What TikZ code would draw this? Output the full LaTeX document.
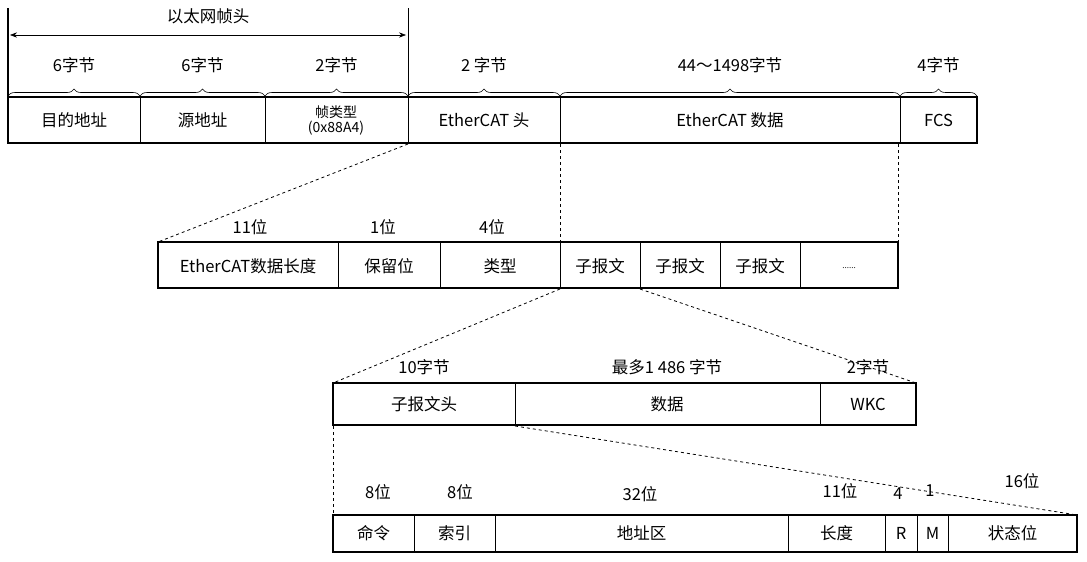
\documentclass[tikz,border=0pt]{standalone}
\usepackage{fontspec}
\setmainfont{Liberation Serif}
\newfontfamily\cjk{Noto Sans CJK SC}
\usetikzlibrary{decorations.pathreplacing,arrows.meta}
\begin{document}
\begin{tikzpicture}[x=1pt,y=-1pt,
  lbl/.style={font=\fontsize{16.5}{17}\selectfont\cjk},
  dsh/.style={dashed,line width=0.8pt},
  frame/.style={line width=1.6pt},
  br/.style={decorate,decoration={brace,amplitude=7pt},line width=0.6pt}]
\useasboundingbox (0,0) rectangle (1087,562);
% Row 1
\foreach \a/\b/\t [count=\i] in {8/140/目的地址,140/265/源地址,408/560/EtherCAT 头,560/900/EtherCAT 数据,900/977/FCS}{
  \node[lbl] (r1t\i) at ({(\a+\b)/2},120) {\t};}
\node[lbl,align=center,font=\fontsize{14}{15}\selectfont\cjk] (r1ft) at (336,120) {帧类型\\(0x88A4)};
\draw[frame] (8,97) rectangle (977,143);
\foreach \x in {140,265,408,560,900} \draw[line width=0.6pt] (\x,97) -- (\x,143);
\foreach \a/\b/\t [count=\i] in {8/140/6字节,140/265/6字节,265/408/2字节,408/560/2 字节,560/900/44～1498字节,900/977/4字节}{
  \draw[br] (\a,96) -- (\b,96);
  \node[lbl] (r1l\i) at ({(\a+\b)/2},65) {\t};}
\coordinate (tl) at (8,8); \coordinate (tr) at (408,8);
\draw[line width=1.2pt] (tl) -- (8,97);
\draw[line width=0.8pt] (tr) -- (408,97);
\coordinate (al) at (10,35); \coordinate (ar) at (406,35);
\draw[{Stealth[length=7pt]}-{Stealth[length=7pt]},line width=0.6pt] (al) -- (ar);
\node[lbl] (eth) at (208,16) {以太网帧头};
% Row 2
\draw[frame] (158,242) rectangle (898,288);
\foreach \x in {338,440,560,640,720,800} \draw[line width=0.6pt] (\x,242) -- (\x,288);
\foreach \a/\b/\t [count=\i] in {158/338/EtherCAT数据长度,338/440/保留位,440/560/类型,560/640/子报文,640/720/子报文,720/800/子报文}{
  \node[lbl] (r2t\i) at ({(\a+\b)/2},266) {\t};}
\node[lbl,font=\fontsize{9}{10}\selectfont] (r2t7) at (849,268) {......};
\node[lbl] (r2l1) at (250,227) {11位};
\node[lbl] (r2l2) at (383,227) {1位};
\node[lbl] (r2l3) at (492,227) {4位};
\draw[dsh] (408,144) -- (158,242);
\draw[dsh] (560,144) -- (560,242);
\draw[dsh] (898,144) -- (898,242);
% Row 3
\draw[frame] (333,383) rectangle (916,425);
\foreach \x in {515,820} \draw[line width=0.6pt] (\x,383) -- (\x,425);
\node[lbl] (r3t1) at (424,404) {子报文头};
\node[lbl] (r3t2) at (667,404) {数据};
\node[lbl] (r3t3) at (868,404) {WKC};
\node[lbl] (r3l1) at (424,367) {10字节};
\node[lbl] (r3l2) at (667,367) {最多1 486 字节};
\node[lbl] (r3l3) at (868,367) {2字节};
\draw[dsh] (560,289) -- (333,383);
\draw[dsh] (640,289) -- (916,383);
% Row 4
\draw[frame] (333,515) rectangle (1077,552);
\foreach \x in {414,495,788,885,917,948} \draw[line width=0.6pt] (\x,515) -- (\x,552);
\foreach \a/\b/\t [count=\i] in {333/414/命令,414/495/索引,495/788/地址区,788/885/长度,885/917/R,917/948/M,948/1077/状态位}{
  \node[lbl] (r4t\i) at ({(\a+\b)/2},533) {\t};}
\node[lbl] (r4l1) at (378,492) {8位};
\node[lbl] (r4l2) at (460,492) {8位};
\node[lbl] (r4l3) at (640,494) {32位};
\node[lbl] (r4l4) at (840,491) {11位};
\node[lbl] (r4l5) at (898,494) {4};
\node[lbl] (r4l6) at (930,491) {1};
\node[lbl] (r4l7) at (1022,481) {16位};
\draw[dsh] (333,426) -- (333,515);
\draw[dsh] (515,426) -- (1077,515);
\end{tikzpicture}
\end{document}
